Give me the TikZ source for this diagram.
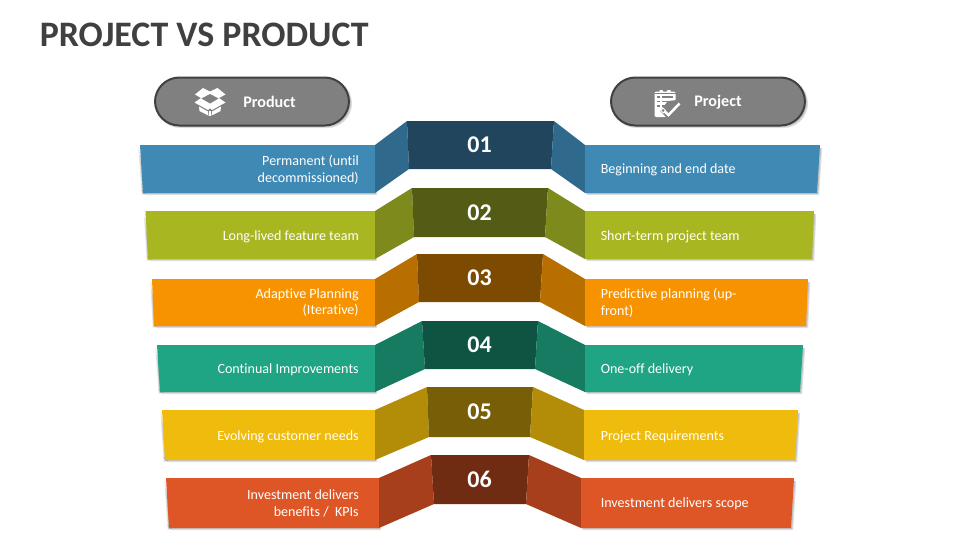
\documentclass[tikz,border=0pt]{standalone}
\usepackage{fontspec}
\setmainfont[Ligatures=NoCommon]{Carlito}
\definecolor{blS}{HTML}{3F89B5}\definecolor{blM}{HTML}{2F6A8C}\definecolor{blC}{HTML}{20455D}
\definecolor{grS}{HTML}{A8B622}\definecolor{grM}{HTML}{7E8A1C}\definecolor{grC}{HTML}{535B14}
\definecolor{orS}{HTML}{F79300}\definecolor{orM}{HTML}{B96E00}\definecolor{orC}{HTML}{7C4A00}
\definecolor{teS}{HTML}{1FA583}\definecolor{teM}{HTML}{177B62}\definecolor{teC}{HTML}{0F5342}
\definecolor{yeS}{HTML}{EFBB0C}\definecolor{yeM}{HTML}{B38C08}\definecolor{yeC}{HTML}{785E06}
\definecolor{reS}{HTML}{DF5626}\definecolor{reM}{HTML}{A73F1C}\definecolor{reC}{HTML}{702B13}
\tikzset{
  x=0.75pt,y=-0.75pt,
  pill/.style={draw=black!75,line width=1.5pt,fill=black!50,rounded corners=18.3pt},
  lbl/.style={text=white,font=\fontsize{10.55}{12.6}\selectfont,inner sep=0pt},
  lblL/.style={lbl,align=right,anchor=east},
  lblR/.style={lbl,align=left,anchor=west},
  num/.style={text=white,font=\bfseries\fontsize{18}{20}\selectfont,inner sep=0pt},
  head/.style={text=white,font=\bfseries\fontsize{12.1}{14}\selectfont,inner sep=0pt},
  soft/.style={fill=black,opacity=0.12},
  icon/.style={fill=white,draw=none},
}
\newcommand{\rowband}[9]{%
  \def\cc{#1}\def\yA{#2}\def\yB{#3}\def\yC{#4}\def\yD{#5}%
  \def\xLT{#6}\def\xLB{#7}\def\xLI{#8}\def\xCT{#9}\rowbandb}
\newcommand{\rowbandb}[6]{%
  \def\xCB{#1}\def\xDT{#2}\def\xDB{#3}\def\xRI{#4}\def\xRT{#5}\def\xRB{#6}%
  \foreach \d in {1.2,2.2}{
    \fill[soft] (\xLT+\d,\yB-3) -- (\xLB+\d,\yB+\d) -- (\xLI+\d,\yB+\d) -- (\xLI+\d,\yB-3) -- cycle;
    \fill[soft] (\xRI+\d,\yB-3) -- (\xRI+\d,\yB+\d) -- (\xRB+\d,\yB+\d) -- (\xRT+\d,\yA+3) -- (\xRT-3,\yA+3) -- cycle;
    \fill[soft] (\xLT-\d+0.5,\yA+2) -- (\xLB-\d+1,\yB+\d) -- (\xLB+3,\yB) -- cycle;
  }
  \fill[\cc S] (\xLT,\yA) -- (\xLI,\yA) -- (\xLI,\yB) -- (\xLB,\yB) -- cycle;
  \fill[\cc M] (\xLI,\yA) -- (\xCT,\yC) -- (\xCB,\yD) -- (\xLI,\yB) -- cycle;
  \fill[\cc C] (\xCT,\yC) -- (\xDT,\yC) -- (\xDB,\yD) -- (\xCB,\yD) -- cycle;
  \fill[\cc M] (\xDT,\yC) -- (\xRI,\yA) -- (\xRI,\yB) -- (\xDB,\yD) -- cycle;
  \fill[\cc S] (\xRI,\yA) -- (\xRT,\yA) -- (\xRB,\yB) -- (\xRI,\yB) -- cycle;
}
\begin{document}
\begin{tikzpicture}
\useasboundingbox (0,0) rectangle (960,540);
\fill[white] (0,0) rectangle (960,540);
\node[anchor=west,inner sep=0pt,text=black!75,font=\bfseries\fontsize{26.9}{30}\selectfont] (title) at (39.5,34.5) {PROJECT VS PRODUCT};

% pills
\foreach \d in {1,2}{
  \fill[soft,rounded corners=18.3pt] (154+\d,77+\d) rectangle (350+\d,126+\d);
  \fill[soft,rounded corners=18.3pt] (610+\d,77+\d) rectangle (806+\d,126+\d);
}
\node[pill,minimum width=145.5pt,minimum height=36pt,inner sep=0pt] (prodpill) at (252,101.5) {};
\node[pill,minimum width=145.5pt,minimum height=36pt,inner sep=0pt] (projpill) at (708,101.5) {};
\node[head,anchor=west] (prod) at (243,102) {Product};
\node[head,anchor=west] (proj) at (694,102) {Project};

% box icon
\begin{scope}[shift={(210,100)}]
  \fill[icon] (-15,-5.5) -- (-7,-12) -- (0,-8.5) -- (7.5,-12) -- (15.5,-5.5) -- (9,-2) -- (15.5,2.5) -- (2,10) -- (0,8) -- (-2,10) -- (-15.5,2.5) -- (-9,-2) -- cycle;
  \fill[black!50] (0,-6) -- (8.5,-1.5) -- (0,3.5) -- (-8.5,-1.5) -- cycle;
  \fill[icon] (-11,6.5) -- (-2,11.5) -- (-1.5,15.5) -- (-10.5,11) -- cycle;
  \fill[icon] (11,6.5) -- (2,11.5) -- (1.5,15.5) -- (10.5,11) -- cycle;
  \fill[icon] (-1,11) -- (1,11) -- (1,15.5) -- (-1,15.5) -- cycle;
\end{scope}

% clipboard icon
\begin{scope}[shift={(665,100)}]
  \fill[icon,rounded corners=1pt] (-10.5,-8.5) -- (10.5,-8.5) -- (10.5,6) -- (1,17) -- (-10.5,17) -- cycle;
  \fill[icon] (-5.5,-8) -- (-5.5,-10) -- (-2.5,-10) arc[start angle=180,end angle=0,radius=2.5] -- (5.5,-10) -- (5.5,-8) -- cycle;
  \fill[black!50] (0,-11) circle[radius=0.8];
  \fill[black!50] (-10.5,-7) rectangle (10.5,-6.3);
  \foreach \yy in {-3,1.5,6}{
    \fill[black!50] (-8,\yy-0.7) rectangle (-5,\yy+0.7);
  }
  \fill[black!50] (-3.5,-3.7) rectangle (8,-2.3);
  \fill[black!50] (-3.5,0.8) rectangle (8,2.2);
  \fill[black!50] (-3.5,5.3) rectangle (1,6.7);
  \fill[black!50] (3,1) -- (12,0) -- (18,5) -- (4,20) -- (-5,11) -- cycle;
  \draw[white,line width=1.9pt] (-2,10) -- (3.5,15) -- (14.5,3.5);
  \fill[white] (-5,10.5) -- (-2,7.5) -- (1,10.5) -- (-2,13.5) -- cycle;
  \fill[black!50] (-2,9) -- (-0.5,10.5) -- (-2,12) -- (-3.5,10.5) -- cycle;
\end{scope}

% bands
\rowband{bl}{145}{193}{121}{169}{140}{143}{375}{407}{409}{554}{551}{585}{820}{817}
\rowband{gr}{211}{259}{188}{237}{145.5}{148}{375}{412}{414}{548}{545}{585}{814}{812}
\rowband{or}{279}{326}{254}{302}{152}{154}{375}{417}{419}{543}{540}{585}{808}{806}
\rowband{te}{345}{392}{321}{369}{157}{160}{375}{422}{425}{538}{535}{585}{803}{800}
\rowband{ye}{410}{460}{387}{437}{162}{165}{375}{427}{429}{533}{530}{584}{798}{795}
\rowband{re}{478}{528}{455}{504}{166}{169}{379}{431}{434}{529}{526}{581}{794}{791}

% numbers
\node[num] (n1) at (479.5,144.5) {01};
\node[num] (n2) at (479.5,212.5) {02};
\node[num] (n3) at (479.5,278) {03};
\node[num] (n4) at (479.5,344.5) {04};
\node[num] (n5) at (479.5,411.5) {05};
\node[num] (n6) at (479.5,479.5) {06};

% left labels
\node[lblL] (l1) at (359,169.5) {Permanent (until\\decommissioned)};
\node[lblL] (l2) at (359,236.5) {Long-lived feature team};
\node[lblL] (l3) at (359,302.5) {Adaptive Planning\\(Iterative)};
\node[lblL] (l4) at (359,369.5) {Continual Improvements};
\node[lblL] (l5) at (359,436.5) {Evolving customer needs};
\node[lblL] (l6) at (359,503.5) {Investment delivers\\benefits /\ \ KPIs};

% right labels
\node[lblR] (r1) at (600.5,169.5) {Beginning and end date};
\node[lblR] (r2) at (600.5,236.5) {Short-term project team};
\node[lblR] (r3) at (600.5,302.5) {Predictive planning (up-\\front)};
\node[lblR] (r4) at (600.5,369.5) {One-off delivery};
\node[lblR] (r5) at (600.5,436.5) {Project Requirements};
\node[lblR] (r6) at (600.5,503.5) {Investment delivers scope};
\end{tikzpicture}
\end{document}
